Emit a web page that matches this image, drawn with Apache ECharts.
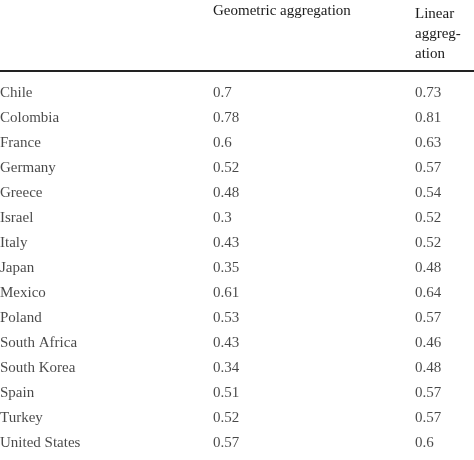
<!DOCTYPE html>
<html><head><meta charset="utf-8">
<script src="https://cdn.jsdelivr.net/npm/echarts@6/dist/echarts.min.js"></script>
<style>html,body{margin:0;padding:0;background:#fff}#c{width:474px;height:460px}</style>
</head><body><div id="c"></div>
<script>
const countries = ["Chile","Colombia","France","Germany","Greece","Israel","Italy","Japan","Mexico","Poland","South Africa","South Korea","Spain","Turkey","United States"];
const geometric = ["0.7","0.78","0.6","0.52","0.48","0.3","0.43","0.35","0.61","0.53","0.43","0.34","0.51","0.52","0.57"];
const linear = ["0.73","0.81","0.63","0.57","0.54","0.52","0.52","0.48","0.64","0.57","0.46","0.48","0.57","0.57","0.6"];
const headers = ["Geometric aggregation","Linear\naggreg-\nation"];

const colX = [0, 213, 415];
const font = {fontFamily:"Liberation Serif", fontSize:15, color:"#1a1a1a"};
function col(vals, x){
  return {type:'scatter', symbolSize:0, silent:true,
    data: vals.map((v,i)=>({value:[x,i], name:v})),
    label:{show:true, position:'right', distance:0, align:'left', formatter:p=>p.name, ...font}};
}
const chart = echarts.init(document.getElementById('c'));
chart.setOption({
  animation:false,
  grid:{left:0,right:0,top:0,bottom:0},
  xAxis:{type:'value',min:0,max:474,show:false},
  yAxis:{type:'value',inverse:true,min:-3.72,max:14.68,show:false},
  series:[col(countries,colX[0]),col(geometric,colX[1]),col(linear,colX[2])],
  graphic:[
    {type:'text',left:colX[1],top:4,style:{text:headers[0],font:"15px 'Liberation Serif'",fill:"#1a1a1a"}},
    {type:'text',left:colX[2],top:4,style:{text:headers[1],font:"15px 'Liberation Serif'",fill:"#1a1a1a",lineHeight:20}},
    {type:'line',shape:{x1:0,y1:71,x2:474,y2:71},style:{stroke:'#222',lineWidth:2}}
  ]
});
</script></body></html>
